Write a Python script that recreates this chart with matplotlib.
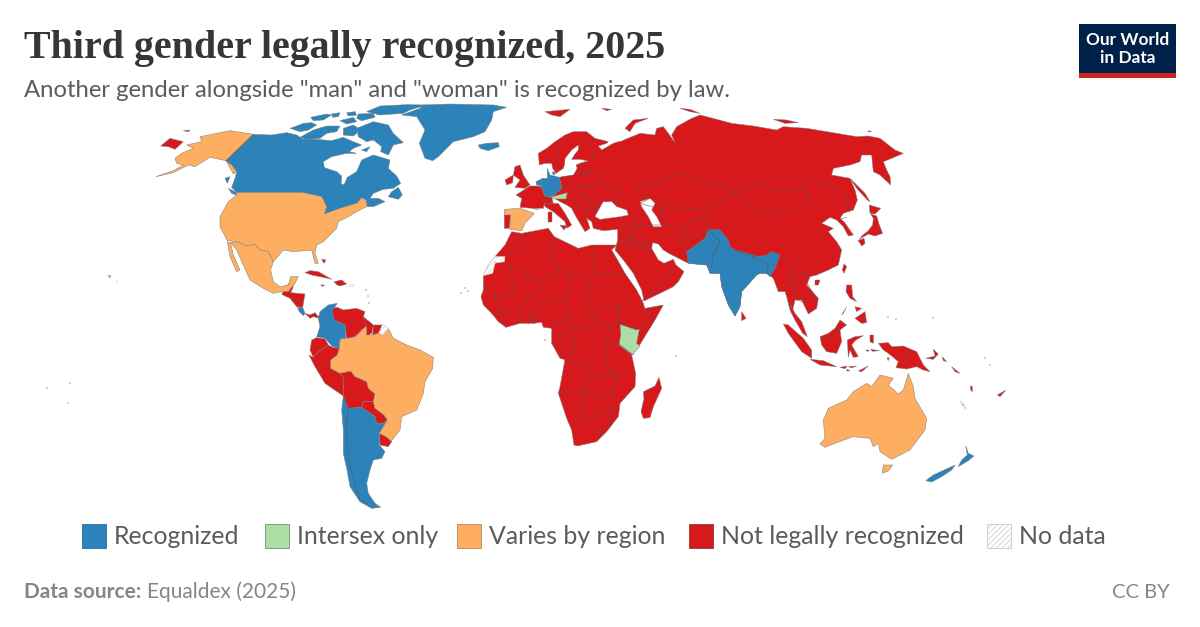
import matplotlib
matplotlib.use("Agg")
import matplotlib.pyplot as plt
from matplotlib.patches import Rectangle

plt.rcParams['hatch.linewidth'] = 0.5

title = "Third gender legally recognized, 2025"
subtitle = 'Another gender alongside "man" and "woman" is recognized by law.'
legend_labels = ["Recognized", "Intersex only", "Varies by region", "Not legally recognized", "No data"]
legend_x = [82, 265, 457, 689, 987]
colors = {"rec": "#2b83ba", "sex": "#abdda4", "var": "#fdae61", "not": "#d7191c"}
edges = {"rec": "#2a6f9c", "sex": "#6f9a6c", "var": "#b08a5a", "not": "#8c3a3c"}

origins = {"A": (140, 100), "B": (260, 270), "C": (470, 100), "D": (470, 240),
           "E": (620, 110), "F": (760, 270)}

eurasia = [
    ("C", [(268,232),(290,228),(310,225),(322,205),(318,195),(335,188),(355,183),(330,178),(305,178),(315,162),(325,150),(325,135),
           (305,150),(285,175),(284,192),(280,205),(258,220),(248,205),(245,190),(225,190),(208,195),(205,160),(230,145),(255,125),
           (285,105),(310,95),(350,95),(375,115),(415,125),(410,130),(385,138),(395,150),(430,130),(445,125),(450,125)]),
    ("E", [(60,70),(105,75),(110,55),(130,50),(145,70),(165,98),(155,75),(170,50),(215,25),(240,15),(290,28),(335,40),
           (400,48),(470,60),(490,50),(560,55),(620,65),(710,80),(745,78),(780,85),(825,120),(850,130),(815,145),(790,155),
           (800,180),(810,200),(812,225),(780,195),(760,185),(755,135),(725,135),(720,155),(690,165),(640,175),(635,195),
           (690,205),(705,240),(712,270),(700,300),(670,310),(660,325),(672,335),(700,375),(685,378),(670,350),
           (650,330),(630,322),(605,340),(640,355),(625,365),(650,395),(665,420),(655,465),(625,480),(590,495),
           (570,500),(560,525),(595,565),(590,595),(565,612),(545,570),(525,570),(518,600),(510,600),(500,560),(495,545),
           (475,545),(460,505),(440,490),(420,490),(410,495),(365,545),(360,590),(345,618),(325,585),(305,530),
           (300,490),(270,490),(260,465),(205,460)]),
    ("C", [(620,472),(600,462),(580,450),(565,432),(548,428),(545,445),(565,480),(582,490),(610,478),(618,495),
           (642,515),(625,545),(610,560),(580,575),(522,603),(515,570),(490,520),(460,480),(435,450),(443,420),
           (443,388),(400,392),(370,385),(365,365),(350,355),(360,385),(345,395),(318,350),(305,325),(290,315),
           (270,305),(245,290),(275,265)]),
]
africa = [("D", [(125,-25),(105,15),(75,50),(55,75),(40,107),(40,150),(33,170),(40,195),(65,220),(85,245),(108,262),
                 (150,250),(190,250),(215,247),(220,262),(245,265),(245,310),(270,355),(285,358),(270,440),(265,460),
                 (290,535),(305,570),(312,615),(322,618),(380,605),(410,575),(445,530),(450,490),(495,440),(497,400),
                 (485,345),(507,318),(555,240),(580,195),(525,205),(518,185),(500,150),(465,100),(443,60),(425,30),
                 (440,15),(365,15),(325,25),(253,-10),(235,-35),(155,-20)])]

not_recognized = {
    "Eurasia": eurasia, "Africa": africa,
    "Chukotka": [("A", [(62,138),(90,115),(130,125),(105,148),(85,140)])],
    "Wrangel": [("A", [(130,92),(150,90),(145,95)])],
    "UK": [("C", [(135,200),(150,195),(160,225),(180,255),(165,265),(135,262),(150,240),(130,225)])],
    "Ireland": [("C", [(105,240),(130,225),(128,248),(110,255)])],
    "France": [("C", [(138,285),(180,258),(200,258),(215,260),(225,290),(245,292),(250,310),(222,315),(220,325),(190,325),(150,322),(155,295)])],
    "Italy": [("C", [(222,310),(250,310),(265,310),(285,340),(305,375),(290,385),(285,365),(250,335),(225,320)])],
    "Sicily": [("C", [(270,375),(290,378),(282,390)])],
    "Sardinia": [("C", [(235,335),(245,335),(245,365),(235,365)])],
    "Portugal": [("C", [(103,345),(122,340),(118,385),(103,385)])],
    "Svalbard": [("C", [(225,35),(300,28),(270,50),(245,45)])],
    "Novaya Zemlya": [("C", [(465,85),(490,60),(535,55),(495,70),(480,95)])],
    "Franz Josef": [("C", [(395,25),(425,28),(410,32)])],
    "Severnaya": [("C", [(630,25),(660,28),(690,40),(660,35)])],
    "New Siberian": [("E", [(460,28),(500,30),(535,38),(495,40)])],
    "Wrangel2": [("E", [(745,62),(755,65),(745,66)])],
    "Sakhalin": [("E", [(690,205),(735,250),(750,275),(742,270),(710,235)])],
    "Hokkaido": [("E", [(748,285),(782,295),(765,312),(750,310)])],
    "Honshu": [("E", [(752,312),(770,318),(778,345),(788,370),(765,378),(745,372),(722,385),(715,395),(725,378),(745,362),(758,345),(760,325)])],
    "Kyushu": [("E", [(715,392),(732,385),(735,400),(725,408)])],
    "Taiwan": [("E", [(672,462),(680,470),(672,490),(667,480)])],
    "Hainan": [("E", [(585,510),(600,510),(595,525),(585,525)])],
    "Sri Lanka": [("E", [(365,605),(378,625),(365,632)])],
    "Madagascar": [("D", [(567,412),(575,445),(550,500),(540,533),(520,535),(513,515),(522,475),(520,455),(555,438)])],
    "Malaya": [("F", [(92,105),(105,130),(125,155),(142,200),(128,190),(105,150),(92,125)])],
    "Sumatra": [("F", [(70,162),(85,165),(130,205),(155,240),(155,265),(125,245),(85,190)])],
    "Java": [("F", [(150,268),(190,272),(230,290),(180,285)])],
    "Sunda1": [("F", [(240,292),(262,288),(255,296)])],
    "Sunda2": [("F", [(262,298),(270,303),(260,303)])],
    "Sunda3": [("F", [(265,290),(290,288),(275,294)])],
    "Timor": [("F", [(295,303),(325,288),(305,305)])],
    "Borneo": [("F", [(180,200),(205,190),(225,175),(240,150),(260,165),(240,180),(245,215),(230,250),(200,245),(185,225)])],
    "Sulawesi": [("F", [(262,210),(285,200),(310,197),(285,212),(275,225),(295,260),(280,262),(270,240),(265,262)])],
    "Luzon": [("F", [(260,45),(275,45),(278,80),(290,95),(270,85),(258,65)])],
    "Mindanao": [("F", [(285,145),(315,125),(320,158),(305,160)])],
    "Visayas": [("F", [(285,110),(305,115),(290,125)])],
    "Palawan": [("F", [(245,135),(260,110),(250,130)])],
    "Halmahera": [("F", [(330,195),(340,195),(340,220),(330,215)])],
    "Buru": [("F", [(318,240),(328,240),(322,245)])],
    "Seram": [("F", [(332,238),(358,242),(338,244)])],
    "Aru": [("F", [(382,262),(388,265),(384,272)])],
    "New Guinea": [("F", [(355,220),(385,218),(395,230),(430,228),(470,245),(480,265),(490,285),(510,305),(490,300),(470,290),(440,297),(408,293),(415,275),(400,262),(385,250),(370,240)])],
    "New Britain": [("F", [(497,265),(525,258),(520,238),(535,252),(520,268)])],
    "Solomon1": [("F", [(547,260),(560,275),(550,272)])],
    "Solomon2": [("F", [(575,290),(600,310),(585,305)])],
    "Vanuatu": [("F", [(632,347),(637,350),(637,365),(632,360)])],
    "Fiji": [("F", [(712,375),(738,360),(720,380)])],
    "Cuba": [("B", [(135,8),(150,2),(175,5),(215,28),(190,22),(155,15)])],
    "Hispaniola": [("B", [(222,35),(245,30),(260,42),(240,48),(230,44)])],
    "Jamaica": [("B", [(182,44),(195,46),(186,49)])],
    "Bahamas": [("A", [(545,478),(558,480),(552,490)])],
    "Central America": [("B", [(65,73),(85,42),(100,50),(92,68),(135,72),(128,112),(110,110),(90,85)])],
    "Panama": [("B", [(135,130),(150,135),(165,128),(180,145),(160,140),(150,145)])],
    "Venezuela": [("B", [(215,115),(232,112),(250,120),(290,115),(315,125),(310,140),(325,165),(305,180),(285,200),(260,205),(255,165),(222,150)])],
    "Guyana": [("B", [(310,140),(340,165),(335,190),(320,198),(318,168)])],
    "Suriname": [("B", [(340,165),(368,165),(355,190),(338,195)])],
    "Ecuador": [("B", [(150,240),(155,210),(170,203),(195,207),(205,225),(175,245),(160,262)])],
    "Peru": [("B", [(147,255),(160,262),(175,245),(205,225),(218,232),(238,235),(232,255),(212,270),(212,295),(240,310),(252,325),(250,378),(195,340),(165,290)])],
    "Bolivia": [("B", [(240,310),(272,303),(285,320),(320,335),(325,355),(345,372),(340,395),(310,395),(305,412),(265,415),(250,378),(252,325)])],
    "Paraguay": [("B", [(310,395),(340,395),(345,415),(372,435),(382,450),(370,460),(350,462),(345,440),(305,412)])],
    "Uruguay": [("B", [(358,490),(378,500),(395,515),(385,530),(360,525)])],
}

recognized = {
    "Canada": [("A", [(340,103),(395,105),(440,98),(470,105),(488,117),(530,118),(575,122),(610,112),(640,125),(665,135),
                      (640,145),(628,155),(650,160),(620,160),(575,170),(550,185),(553,203),(590,215),
                      (605,228),(603,250),(612,255),(622,232),(650,215),(665,180),(700,165),(750,180),(745,205),(770,228),
                      (782,250),(760,265),(730,268),(700,280),(690,295),(715,295),(735,305),(700,320),(682,320),(678,300),
                      (665,293),(650,310),(600,325),(553,342),(560,320),(545,290),
                      (490,278),(290,278),(275,262),(285,235),(290,215),(275,195),(258,182)])],
    "Newfoundland": [("A", [(755,275),(775,262),(787,285),(775,298),(745,290)])],
    "Vancouver": [("A", [(265,265),(290,278),(295,287),(275,280)])],
    "Haida": [("A", [(255,235),(270,230),(262,250)])],
    "Banks": [("A", [(450,85),(470,78),(490,70),(515,68),(530,75),(505,90),(480,95)])],
    "Melville": [("A", [(512,52),(560,42),(575,45),(550,60),(520,62)])],
    "Bathurst": [("A", [(575,42),(600,38),(595,50),(578,52)])],
    "Axel": [("A", [(620,38),(645,35),(650,45),(625,48)])],
    "Devon": [("A", [(655,42),(700,40),(705,52),(665,62),(650,55)])],
    "Victoria": [("A", [(480,112),(520,90),(560,78),(600,78),(590,95),(560,100),(540,115),(500,118)])],
    "Somerset": [("A", [(600,62),(640,52),(650,65),(620,72)])],
    "Boothia": [("A", [(610,85),(640,75),(655,85),(650,100),(640,108),(610,105)])],
    "Baffin": [("A", [(650,85),(700,65),(745,75),(760,100),(790,128),(760,135),(745,165),(722,155),(725,140),(700,120),(680,125),(655,110)])],
    "Southampton": [("A", [(665,150),(690,140),(680,155)])],
    "Ellesmere": [("A", [(680,35),(720,18),(800,14),(860,15),(810,30),(790,40),(720,45)])],
    "Greenland": [("A", [(785,45),(840,25),(850,15),(930,12),(1060,15),(1100,22),(1060,35),(1055,60),(1035,95),(1000,110),
                         (940,125),(895,170),(878,182),(855,175),(838,130),(855,90),(830,50)])],
    "Iceland": [("A", [(1015,135),(1040,130),(1075,128),(1078,140),(1045,152),(1020,145)])],
    "Germany": [("C", [(215,235),(232,235),(232,205),(240,225),(268,232),(275,265),(245,290),(225,290),(215,260)])],
    "Netherlands": [("C", [(198,245),(215,237),(215,258),(200,255)])],
    "Denmark islands": [("C", [(248,215),(256,218),(254,225),(248,222)])],
    "South Asia": [("E", [(200,425),(255,385),(265,358),(300,360),(325,390),(330,410),(345,420),(400,435),(415,440),(440,435),
                          (455,425),(480,435),(465,475),(450,500),(440,490),(420,490),(410,495),(365,545),(360,590),
                          (345,618),(325,585),(305,530),(300,490),(270,490),(260,465),(205,460)])],
    "Colombia": [("B", [(175,145),(180,125),(205,105),(232,100),(218,120),(222,150),(255,165),(258,205),(240,210),(238,235),(218,230),(195,205),(170,200),(180,170)])],
    "Costa Rica": [("B", [(112,112),(128,112),(135,130),(130,137),(118,125)])],
    "Southern Cone": [("B", [(250,378),(265,415),(305,412),(345,440),(350,462),(370,460),(382,450),(358,490),(358,525),(375,545),
                             (365,565),(340,570),(330,600),(320,640),(325,670),(345,700),(362,712),(335,715),(300,695),(270,650),
                             (262,605),(250,550),(250,480),(245,420)])],
    "NZ North": [("F", [(617,527),(625,550),(642,558),(625,572),(595,590),(605,570),(622,555)])],
    "NZ South": [("F", [(585,585),(575,600),(545,620),(515,636),(497,632),(520,615)])],
}

intersex_only = {
    "Austria": [("C", [(240,292),(265,285),(292,278),(288,297),(255,297)])],
    "Kenya": [("D", [(450,253),(500,270),(508,268),(500,310),(510,318),(487,345),(447,315),(452,285)])],
}

varies = {
    "Alaska": [("A", [(340,103),(270,92),(180,110),(185,125),(140,135),(160,145),(125,160),(105,175),(110,190),(130,195),(100,212),
                      (48,230),(100,218),(145,195),(165,200),(210,172),(258,182),(275,195),(290,215),(280,222),(258,182)])],
    "USA": [("A", [(290,278),(490,278),(545,290),(560,320),(553,342),(600,325),(650,310),(665,293),(678,305),(680,320),(650,335),
                   (625,350),(595,365),(590,385),(550,425),(530,435),(525,460),(535,490),(525,490),(515,450),(460,455),(430,450),
                   (400,485),(385,455),(360,450),(345,433),(320,438),(290,425),(262,422),(240,380),(240,350),(265,305),(290,285)])],
    "Mexico": [("A", [(272,428),(290,425),(320,438),(345,433),(360,450),(385,455),(400,485),(392,510),(400,545),(420,560),(445,555),
                      (452,530),(475,530),(465,550),(445,575),(425,575),(400,580),(370,565),(330,540),(310,495),(290,450)])],
    "Baja": [("A", [(262,425),(272,430),(280,465),(300,510),(290,515),(270,470)])],
    "Spain": [("C", [(103,328),(150,325),(193,340),(165,370),(155,392),(120,388),(122,345),(103,345)])],
    "Brazil": [("B", [(245,205),(258,205),(285,203),(305,180),(320,168),(320,195),(338,195),(355,190),(370,195),(385,175),(400,205),
                      (440,225),(480,240),(520,262),(518,295),(495,335),(490,370),(470,420),(425,440),(420,480),(395,512),(378,500),
                      (358,490),(382,450),(372,435),(345,415),(340,395),(345,372),(325,355),(320,335),(285,320),(272,303),(240,310),(212,295),
                      (212,270),(232,255),(238,235),(240,210)])],
    "Australia": [("F", [(180,522),(195,505),(190,450),(205,415),(260,390),(280,365),(320,340),(335,350),(360,315),(400,325),(385,345),
                         (415,372),(430,360),(445,310),(460,350),(465,385),(500,445),(495,480),(450,540),(395,568),(360,545),(355,520),
                         (340,530),(330,505),(280,500),(230,518),(195,532)])],
    "Tasmania": [("F", [(370,585),(398,585),(385,603),(367,610)])],
    "Hawaii": [("A", [(-95,525),(-88,527),(-91,534)])],
}

no_data = {
    "Western Sahara": [("D", [(75,50),(105,50),(103,65),(75,70),(68,100),(40,107),(55,75)])],
    "French Guiana": [("B", [(368,162),(385,175),(370,195),(357,190)])],
    "Puerto Rico": [("B", [(268,44),(282,45),(278,50),(268,49)])],
    "New Caledonia": [("F", [(600,395),(606,395),(620,414),(614,417)])],
}

seas = {
    "Black Sea": [("C", [(380,340),(400,305),(425,305),(440,320),(470,330),(475,345),(450,350),(390,358),(375,350)])],
    "Caspian": [("C", [(510,305),(540,295),(555,310),(545,330),(560,350),(575,380),(550,380),(535,350),(515,320)])],
}

borders = [
    ("D", [(160,-20),(150,20),(105,45)]), ("D", [(122,75),(205,128),(265,88)]),
    ("D", [(75,68),(122,75),(130,160),(75,165),(40,150)]), ("D", [(205,128),(205,160),(180,168),(150,205)]),
    ("D", [(75,165),(85,210),(110,210),(150,205)]), ("D", [(250,0),(250,55),(265,88)]),
    ("D", [(365,15),(365,100)]), ("D", [(265,88),(295,95),(365,120)]), ("D", [(365,100),(465,100)]),
    ("D", [(295,95),(298,130),(285,180),(290,205),(295,225)]), ("D", [(205,180),(285,180)]),
    ("D", [(200,180),(195,250)]), ("D", [(295,225),(270,245),(245,265)]), ("D", [(365,120),(350,175),(360,210)]),
    ("D", [(295,225),(290,275),(320,265),(385,255),(360,210)]), ("D", [(360,210),(440,195),(445,250),(420,255),(385,255)]),
    ("D", [(470,170),(450,200),(445,250),(505,265),(555,230),(510,200),(505,190)]),
    ("D", [(320,265),(310,340),(275,345)]), ("D", [(420,260),(405,320),(410,375),(435,415),(400,410),(350,405),(345,365),(300,370),(275,355)]),
    ("D", [(410,310),(447,312),(490,345)]), ("D", [(485,395),(440,405),(410,375)]), ("D", [(350,405),(345,460),(270,458)]),
    ("D", [(340,465),(330,545),(305,570)]), ("D", [(340,465),(385,470),(435,445)]), ("D", [(445,405),(430,445),(430,510)]),
    ("D", [(330,550),(375,530),(415,505),(430,510),(425,535)]), ("D", [(65,220),(100,215),(108,262)]), ("D", [(150,205),(145,250)]),
    ("D", [(175,205),(175,250)]), ("D", [(190,205),(190,250)]), ("D", [(245,310),(290,310),(280,280),(245,280)]),
    ("D", [(380,568),(392,570),(395,578),(385,582),(380,568)]), ("D", [(415,540),(425,540),(425,550),(415,550),(415,540)]),
    ("E", [(50,230),(90,228),(140,205),(190,190),(240,205),(320,235),(335,245)]), ("E", [(50,230),(55,255),(90,265),(60,280)]),
    ("E", [(60,280),(130,300),(130,280),(180,295),(240,300),(310,275),(335,245)]),
    ("E", [(335,245),(370,232),(400,220),(470,245),(545,240),(550,210),(580,210),(680,250),(680,295),(700,300)]),
    ("E", [(335,245),(375,275),(420,300),(490,310),(530,290),(575,262),(545,240)]),
    ("E", [(130,300),(130,345),(190,355),(185,385),(200,425)]), ("E", [(190,350),(225,325),(262,320),(265,358),(230,380),(190,385)]),
    ("E", [(130,345),(60,345),(30,370),(40,395),(95,420)]), ("E", [(0,390),(40,395)]), ("E", [(0,400),(40,415),(95,420)]),
    ("E", [(265,358),(285,380),(300,395),(278,440),(275,470)]), ("E", [(345,420),(410,445),(385,425)]),
    ("E", [(420,450),(445,465),(440,490)]), ("E", [(480,435),(520,470),(510,500),(520,540)]),
    ("E", [(505,495),(545,490),(570,535),(590,570)]), ("E", [(510,510),(530,570),(565,580)]), ("E", [(590,495),(550,485)]),
    ("E", [(540,560),(590,565)]), ("E", [(650,330),(680,322)]), ("E", [(160,470),(130,510),(65,575)]),
    ("C", [(330,225),(385,220),(390,250),(335,260)]), ("C", [(335,260),(390,250),(450,275),(440,300),(400,305)]),
    ("C", [(335,260),(330,280),(370,310),(400,305)]), ("C", [(320,205),(360,213),(330,225)]), ("C", [(268,232),(330,225)]),
    ("C", [(275,265),(335,260)]), ("C", [(340,100),(375,170),(360,180)]), ("C", [(255,130),(270,190)]),
    ("C", [(340,300),(370,310),(385,330),(345,330)]), ("C", [(300,300),(345,330),(345,355)]), ("C", [(475,345),(515,345)]),
    ("C", [(450,355),(455,385),(520,370)]), ("C", [(443,400),(500,420),(548,428)]), ("C", [(225,290),(245,292)]),
    ("C", [(180,258),(200,258)]), ("C", [(205,330),(190,325)]), ("F", [(185,205),(230,195),(240,165)]), ("F", [(437,230),(437,297)]),
    ("B", [(250,378),(265,415),(258,470),(262,530),(270,590),(285,640),(300,690),(320,700)]),
    ("B", [(110,85),(120,100)]), ("B", [(90,70),(105,90)]), ("B", [(232,36),(235,46)]), ("A", [(258,182),(340,103)]),
]

# tiny islands, too small to outline
island_x = [110, 117, 47, 70, 68, 461, 465, 468, 366, 368, 369, 545, 676, 645, 644, 645, 990, 985, 963, 888, 896, 933]
island_y = [276, 281, 388, 383, 403, 293, 288, 291, 290, 296, 303, 340, 356, 406, 408, 402, 365, 358, 405, 317, 319, 318]
island_status = ["var", "var", "not", "not", "not", "not", "not", "not", "not", "not", "not", "not", "not", "not", "not", "not",
                 "not", "not", "not", "not", "not", "not"]


def outline(segments):
    pts = []
    for key, seg in segments:
        ox, oy = origins[key]
        pts += [(ox + px / 3, oy + py / 3) for px, py in seg]
    return zip(*pts)


fig = plt.figure(figsize=(12, 6.27), dpi=100)
ax = fig.add_axes([0, 0, 1, 1])
ax.set_xlim(0, 1200)
ax.set_ylim(627, 0)
ax.axis("off")

for group, status in [(not_recognized, "not"), (recognized, "rec"), (varies, "var"), (intersex_only, "sex")]:
    for name, segs in group.items():
        xs, ys = outline(segs)
        ax.fill(xs, ys, facecolor=colors[status], edgecolor="#7d7d7d", linewidth=0.35, zorder=2)

for name, segs in no_data.items():
    xs, ys = outline(segs)
    ax.fill(xs, ys, facecolor="white", edgecolor="#d0d0d0", hatch="//////", linewidth=0.4, zorder=3)

for name, segs in seas.items():
    xs, ys = outline(segs)
    ax.fill(xs, ys, facecolor="white", edgecolor="#9a9a9a", linewidth=0.3, zorder=3)

for seg in borders:
    xs, ys = outline([seg])
    ax.plot(xs, ys, color="#6a4a4c", linewidth=0.5, alpha=0.7, zorder=4, solid_capstyle="round")

ax.scatter(island_x, island_y, s=1.2, c=[colors[s] for s in island_status], linewidths=0, alpha=0.6, zorder=4)

# header
ax.text(24, 58, title, fontsize=28.8, family="Liberation Serif", weight="bold", color="#363636", va="baseline")
ax.text(24, 97, subtitle, fontsize=17.2, family="Lato", color="#5b5b5b", va="baseline")

# logo
ax.add_patch(Rectangle((1079, 24), 97, 54, facecolor="#002147", edgecolor="none", zorder=5))
ax.add_patch(Rectangle((1079, 73), 97, 5, facecolor="#ce261e", edgecolor="none", zorder=6))
ax.text(1127.5, 40, "Our World", fontsize=12.4, family="Lato", weight="bold", color="white", ha="center", va="center", zorder=6)
ax.text(1127.5, 58, "in Data", fontsize=12.4, family="Lato", weight="bold", color="white", ha="center", va="center", zorder=6)

# legend
legend_keys = ["rec", "sex", "var", "not", None]
for x, label, key in zip(legend_x, legend_labels, legend_keys):
    if key:
        ax.add_patch(Rectangle((x, 524), 24, 24, facecolor=colors[key], edgecolor=edges[key], linewidth=0.6))
    else:
        ax.add_patch(Rectangle((x, 524), 24, 24, facecolor="white", edgecolor="#c8c8c8", hatch="//////", linewidth=0.6))
    ax.text(x + 32, 544, label, fontsize=17.9, family="Lato", color="#5b5b5b", va="baseline")

# footer
ax.text(24, 598, "Data source:", fontsize=15, family="Lato", weight="bold", color="#858585", va="baseline")
ax.text(147, 598, "Equaldex (2025)", fontsize=15, family="Lato", color="#858585", va="baseline")
ax.text(1170, 598, "CC BY", fontsize=14.5, family="Lato", color="#858585", ha="right", va="baseline")

fig.savefig("out.png", dpi=100)
